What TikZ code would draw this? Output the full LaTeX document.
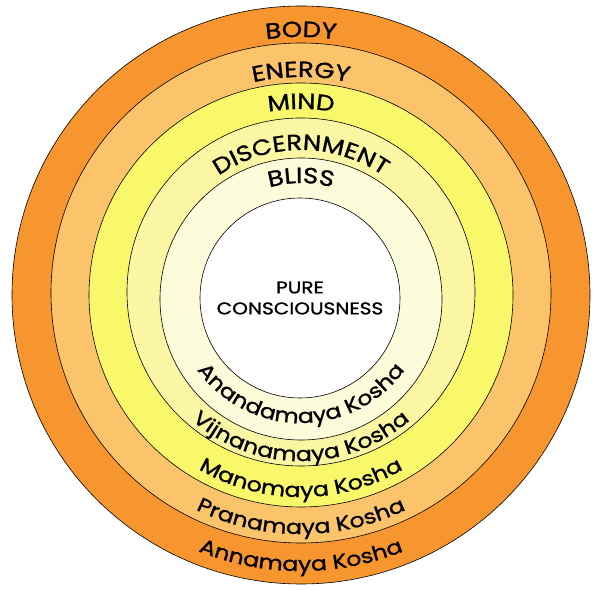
\documentclass[tikz,border=0pt]{standalone}
\usepackage{fontspec}
\setmainfont{Poppins}
\newfontfamily\lbl{Poppins}[FakeStretch=1.18, FakeBold=1.2]
\usetikzlibrary{decorations.text}
\definecolor{cBody}{HTML}{F7962F}
\definecolor{cEnergy}{HTML}{FBC46A}
\definecolor{cMind}{HTML}{F9F76A}
\definecolor{cDisc}{HTML}{FAF6A4}
\definecolor{cBliss}{HTML}{FCFBDA}
\tikzset{
  ring/.style={circle, draw=black, line width=0.6pt, inner sep=0pt, minimum size=#1},
  arclbl/.style 2 args={decorate, decoration={text along path, text align=center, text={|\lbl\fontsize{#1}{#1}\selectfont|#2}}},
}
\begin{document}
\begin{tikzpicture}[x=1pt,y=1pt]
\useasboundingbox (0,0) rectangle (602,589);
\coordinate (C) at (301,294);
\node[ring=578pt, fill=cBody] (body) at (C) {};
\node[ring=500pt, fill=cEnergy] (energy) at (301,296) {};
\node[ring=424pt, fill=cMind] (mind) at (301,294) {};
\node[ring=348pt, fill=cDisc] (disc) at (301,297) {};
\node[ring=282pt, fill=cBliss] (bliss) at (301,290) {};
\node[ring=200pt, fill=white, align=center, font=\lbl\fontsize{17}{21}\selectfont] (pure) at (300,291) {PURE\\CONSCIOUSNESS};
% top labels
\path[arclbl={22}{BODY}] (C) ++(150:258) arc[start angle=150, end angle=30, radius=258];
\path[arclbl={22}{ENERGY}] (C) ++(150:218) arc[start angle=150, end angle=30, radius=218];
\path[arclbl={22}{MIND}] (C) ++(150:186) arc[start angle=150, end angle=30, radius=186];
\path[arclbl={22}{DISCERNMENT}] (C) ++(165:145) arc[start angle=165, end angle=15, radius=145];
\path[arclbl={22}{BLISS}] (C) ++(150:112) arc[start angle=150, end angle=30, radius=112];
% bottom labels
\path[arclbl={20}{Anandamaya Kosha}] (C) ++(185:128) arc[start angle=185, end angle=355, radius=128];
\path[arclbl={20}{Vijnanamaya Kosha}] (C) ++(200:166) arc[start angle=200, end angle=340, radius=166];
\path[arclbl={20}{Manomaya Kosha}] (C) ++(210:202) arc[start angle=210, end angle=330, radius=202];
\path[arclbl={20}{Pranamaya Kosha}] (C) ++(215:239) arc[start angle=215, end angle=325, radius=239];
\path[arclbl={20}{Annamaya Kosha}] (C) ++(220:276) arc[start angle=220, end angle=320, radius=276];
\end{tikzpicture}
\end{document}
